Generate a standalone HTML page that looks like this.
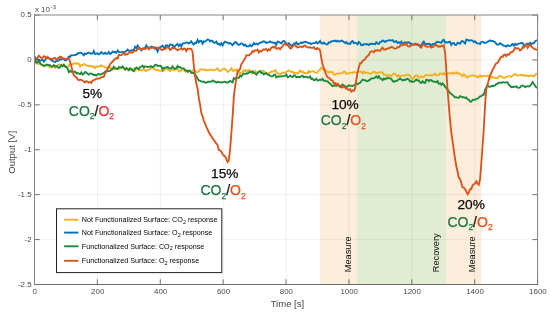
<!DOCTYPE html>
<html><head><meta charset="utf-8"><title>Sensor output</title>
<style>html,body{margin:0;padding:0;background:#fff;}body{width:550px;height:315px;overflow:hidden;position:relative;font-family:"Liberation Sans",Arial,sans-serif;}</style>
</head><body>
<svg width="550" height="315" viewBox="0 0 550 315" style="position:absolute;left:0;top:0">
<rect x="0" y="0" width="550" height="315" fill="#fff"/>
<rect x="320.0" y="15.0" width="36.8" height="269.5" fill="#fdeedb"/>
<rect x="356.8" y="15.0" width="89.3" height="269.5" fill="#e2ecd2"/>
<rect x="446.1" y="15.0" width="35.1" height="269.5" fill="#fdeedb"/>
<g stroke="#000" stroke-opacity="0.10" stroke-width="0.6"><line x1="97.39" y1="15.0" x2="97.39" y2="284.5"/><line x1="160.28" y1="15.0" x2="160.28" y2="284.5"/><line x1="223.16" y1="15.0" x2="223.16" y2="284.5"/><line x1="286.05" y1="15.0" x2="286.05" y2="284.5"/><line x1="348.94" y1="15.0" x2="348.94" y2="284.5"/><line x1="411.83" y1="15.0" x2="411.83" y2="284.5"/><line x1="474.71" y1="15.0" x2="474.71" y2="284.5"/><line x1="34.5" y1="59.92" x2="537.6" y2="59.92"/><line x1="34.5" y1="104.83" x2="537.6" y2="104.83"/><line x1="34.5" y1="149.75" x2="537.6" y2="149.75"/><line x1="34.5" y1="194.67" x2="537.6" y2="194.67"/><line x1="34.5" y1="239.58" x2="537.6" y2="239.58"/></g>
<clipPath id="c"><rect x="34.5" y="15.0" width="503.1" height="269.5"/></clipPath>
<g clip-path="url(#c)" fill="none" stroke-width="1.85" stroke-linejoin="miter" stroke-linecap="round">
<path d="M35.1 61.0 L36.3 62.5 L37.6 64.0 L38.8 63.8 L40.1 63.3 L41.3 64.3 L42.6 65.3 L43.8 66.4 L45.1 65.2 L46.3 64.5 L47.6 65.8 L48.8 66.2 L50.1 67.3 L51.3 67.3 L52.6 66.4 L53.8 65.8 L55.1 68.0 L56.3 66.6 L57.6 65.5 L58.8 64.7 L60.1 65.4 L61.3 65.8 L62.6 65.5 L63.8 65.6 L65.1 66.0 L66.3 66.4 L67.6 66.8 L68.8 66.1 L70.1 64.0 L71.3 65.1 L72.6 63.7 L73.8 64.1 L75.1 63.0 L76.3 63.7 L77.6 63.3 L78.8 63.8 L80.1 66.5 L81.3 65.0 L82.6 65.4 L83.8 64.0 L85.1 64.4 L86.3 65.5 L87.6 65.6 L88.8 66.2 L90.1 66.4 L91.3 65.8 L92.6 67.0 L93.8 66.4 L95.1 68.0 L96.3 66.6 L97.6 66.8 L98.8 66.2 L100.1 66.5 L101.3 65.2 L102.6 66.4 L103.8 66.2 L105.1 67.4 L106.3 67.6 L107.6 67.4 L108.8 66.7 L110.1 67.9 L111.3 68.3 L112.6 69.7 L113.8 68.8 L115.1 69.0 L116.3 69.1 L117.6 68.9 L118.8 68.8 L120.1 68.7 L121.3 68.0 L122.6 67.4 L123.8 67.6 L125.1 68.5 L126.3 69.7 L127.6 69.8 L128.8 69.9 L130.1 69.7 L131.3 69.6 L132.6 69.1 L133.8 69.5 L135.1 70.5 L136.3 69.3 L137.6 68.5 L138.8 70.4 L140.1 69.9 L141.3 70.3 L142.6 70.4 L143.8 68.6 L145.1 70.8 L146.3 71.1 L147.6 69.9 L148.8 69.8 L150.1 69.2 L151.3 68.0 L152.6 68.1 L153.8 68.8 L155.1 69.9 L156.3 70.1 L157.6 69.8 L158.8 70.8 L160.1 70.4 L161.3 71.0 L162.6 71.5 L163.8 70.5 L165.1 68.7 L166.3 68.6 L167.6 69.5 L168.8 70.1 L170.1 71.2 L171.3 69.5 L172.6 69.6 L173.8 70.1 L175.1 69.7 L176.3 67.7 L177.6 69.4 L178.8 71.5 L180.1 71.3 L181.3 69.6 L182.6 69.3 L183.8 69.7 L185.1 71.7 L186.3 71.2 L187.6 70.6 L188.8 71.6 L190.1 70.8 L191.3 72.1 L192.6 70.6 L193.8 70.2 L195.1 71.1 L196.3 72.1 L197.6 72.0 L198.8 71.6 L200.1 69.5 L201.3 69.5 L202.6 69.4 L203.8 69.4 L205.1 70.3 L206.3 69.8 L207.6 70.5 L208.8 70.2 L210.1 69.6 L211.3 69.7 L212.6 70.0 L213.8 70.5 L215.1 69.6 L216.3 69.4 L217.6 68.4 L218.8 70.4 L220.1 71.2 L221.3 70.2 L222.6 69.5 L223.8 68.6 L225.1 69.4 L226.3 69.9 L227.6 71.9 L228.8 71.2 L230.1 70.1 L231.3 68.3 L232.6 70.8 L233.8 70.9 L235.1 69.5 L236.3 70.5 L237.6 69.5 L238.8 73.4 L240.1 73.2 L241.3 72.8 L242.6 72.0 L243.8 70.1 L245.1 71.0 L246.3 70.2 L247.6 71.8 L248.8 70.2 L250.1 70.6 L251.3 72.5 L252.6 73.7 L253.8 71.9 L255.1 70.8 L256.3 72.3 L257.6 72.9 L258.8 71.7 L260.1 71.4 L261.3 71.2 L262.6 70.8 L263.8 71.0 L265.1 72.7 L266.3 73.0 L267.6 74.3 L268.8 73.1 L270.1 72.5 L271.3 71.5 L272.6 71.8 L273.8 70.9 L275.1 70.1 L276.3 71.9 L277.6 73.4 L278.8 73.6 L280.1 74.2 L281.3 73.5 L282.6 72.5 L283.8 72.7 L285.1 72.5 L286.3 71.8 L287.6 71.0 L288.8 70.4 L290.1 71.2 L291.3 71.9 L292.6 71.6 L293.8 73.1 L295.1 72.8 L296.3 72.9 L297.6 73.5 L298.8 72.1 L300.1 70.5 L301.3 72.1 L302.6 71.5 L303.8 73.0 L305.1 72.8 L306.3 73.3 L307.6 73.3 L308.8 71.0 L310.1 72.2 L311.3 71.6 L312.6 71.3 L313.8 71.4 L315.1 72.5 L316.3 72.8 L317.6 72.7 L318.8 70.2 L320.1 69.8 L321.3 67.8 L322.6 68.6 L323.8 69.9 L325.1 69.7 L326.3 70.8 L327.6 71.5 L328.8 72.7 L330.1 72.0 L331.3 71.9 L332.6 72.2 L333.8 74.4 L335.1 74.8 L336.3 73.8 L337.6 73.7 L338.8 73.5 L340.1 73.5 L341.3 73.1 L342.6 72.8 L343.8 71.8 L345.1 71.9 L346.3 73.8 L347.6 73.7 L348.8 73.2 L350.1 72.7 L351.3 72.6 L352.6 72.8 L353.8 72.0 L355.1 72.3 L356.3 72.4 L357.6 71.9 L358.8 71.7 L360.1 71.6 L361.3 71.6 L362.6 73.4 L363.8 71.6 L365.1 72.6 L366.3 73.0 L367.6 72.7 L368.8 73.0 L370.1 73.9 L371.3 73.2 L372.6 72.6 L373.8 71.7 L375.1 72.1 L376.3 73.4 L377.6 73.0 L378.8 72.4 L380.1 72.2 L381.3 72.4 L382.6 72.4 L383.8 74.7 L385.1 75.1 L386.3 74.8 L387.6 76.1 L388.8 75.0 L390.1 75.7 L391.3 76.1 L392.6 74.4 L393.8 73.6 L395.1 73.8 L396.3 75.5 L397.6 76.7 L398.8 75.2 L400.1 76.5 L401.3 75.9 L402.6 75.7 L403.8 75.6 L405.1 75.8 L406.3 74.7 L407.6 74.9 L408.8 74.7 L410.1 76.1 L411.3 78.1 L412.6 79.5 L413.8 77.6 L415.1 75.5 L416.3 75.7 L417.6 75.4 L418.8 77.7 L420.1 77.5 L421.3 76.3 L422.6 77.2 L423.8 77.1 L425.1 75.2 L426.3 75.1 L427.6 75.2 L428.8 75.4 L430.1 75.5 L431.3 75.0 L432.6 75.2 L433.8 74.5 L435.1 73.8 L436.3 75.5 L437.6 75.2 L438.8 75.1 L440.1 73.3 L441.3 73.7 L442.6 74.6 L443.8 73.2 L445.1 74.5 L446.3 73.7 L447.6 73.8 L448.8 73.2 L450.1 73.1 L451.3 73.7 L452.6 72.5 L453.8 73.8 L455.1 72.8 L456.3 72.4 L457.6 73.9 L458.8 73.2 L460.1 73.8 L461.3 75.3 L462.6 76.2 L463.8 74.2 L465.1 75.3 L466.3 77.1 L467.6 77.4 L468.8 76.4 L470.1 75.8 L471.3 75.8 L472.6 75.2 L473.8 75.8 L475.1 76.0 L476.3 76.2 L477.6 77.3 L478.8 76.7 L480.1 75.4 L481.3 76.9 L482.6 75.8 L483.8 75.8 L485.1 76.1 L486.3 76.0 L487.6 75.5 L488.8 76.0 L490.1 78.3 L491.3 77.0 L492.6 76.8 L493.8 77.9 L495.1 78.1 L496.3 78.2 L497.6 78.4 L498.8 76.2 L500.1 76.0 L501.3 76.6 L502.6 77.1 L503.8 78.0 L505.1 77.6 L506.3 76.8 L507.6 76.6 L508.8 76.2 L510.1 76.3 L511.3 76.7 L512.6 75.8 L513.8 74.7 L515.1 74.0 L516.3 75.2 L517.6 75.6 L518.8 75.4 L520.1 75.0 L521.3 75.1 L522.6 74.9 L523.8 75.8 L525.1 75.0 L526.3 75.7 L527.6 75.6 L528.8 76.4 L530.1 75.6 L531.3 75.5 L532.6 75.7 L533.8 76.5 L535.1 74.9 L536.3 74.0" stroke="#f0b020"/>
<path d="M35.1 57.2 L36.3 59.0 L37.6 59.7 L38.8 59.4 L40.1 60.7 L41.3 60.3 L42.6 59.8 L43.8 61.6 L45.1 60.0 L46.3 58.5 L47.6 57.6 L48.8 58.0 L50.1 59.4 L51.3 60.2 L52.6 60.8 L53.8 61.7 L55.1 62.0 L56.3 60.9 L57.6 61.1 L58.8 60.5 L60.1 58.9 L61.3 59.6 L62.6 59.1 L63.8 58.5 L65.1 60.5 L66.3 60.1 L67.6 58.6 L68.8 56.6 L70.1 56.9 L71.3 55.2 L72.6 55.3 L73.8 55.2 L75.1 54.9 L76.3 54.8 L77.6 53.6 L78.8 52.9 L80.1 52.9 L81.3 52.7 L82.6 53.9 L83.8 55.3 L85.1 53.4 L86.3 54.1 L87.6 52.9 L88.8 52.7 L90.1 53.1 L91.3 53.7 L92.6 53.4 L93.8 51.0 L95.1 54.1 L96.3 53.7 L97.6 53.2 L98.8 54.3 L100.1 53.5 L101.3 52.2 L102.6 53.5 L103.8 53.9 L105.1 52.7 L106.3 53.8 L107.6 53.7 L108.8 51.9 L110.1 54.1 L111.3 53.4 L112.6 51.5 L113.8 52.2 L115.1 52.0 L116.3 52.7 L117.6 50.5 L118.8 51.9 L120.1 52.3 L121.3 52.2 L122.6 51.9 L123.8 52.4 L125.1 52.0 L126.3 51.0 L127.6 49.5 L128.8 50.7 L130.1 51.1 L131.3 50.4 L132.6 49.9 L133.8 50.1 L135.1 46.7 L136.3 48.1 L137.6 45.6 L138.8 47.3 L140.1 48.9 L141.3 50.3 L142.6 48.4 L143.8 48.4 L145.1 47.8 L146.3 45.3 L147.6 47.3 L148.8 47.5 L150.1 47.6 L151.3 46.6 L152.6 47.1 L153.8 47.4 L155.1 48.9 L156.3 48.5 L157.6 51.6 L158.8 48.5 L160.1 47.2 L161.3 46.7 L162.6 45.6 L163.8 47.5 L165.1 47.3 L166.3 45.1 L167.6 45.5 L168.8 46.7 L170.1 44.4 L171.3 44.9 L172.6 44.7 L173.8 47.2 L175.1 46.2 L176.3 44.8 L177.6 44.0 L178.8 46.1 L180.1 44.5 L181.3 46.5 L182.6 43.4 L183.8 43.3 L185.1 43.1 L186.3 42.5 L187.6 42.7 L188.8 43.6 L190.1 42.6 L191.3 41.3 L192.6 43.5 L193.8 44.6 L195.1 42.8 L196.3 42.9 L197.6 39.9 L198.8 42.3 L200.1 40.8 L201.3 40.9 L202.6 43.7 L203.8 41.3 L205.1 41.6 L206.3 40.6 L207.6 39.4 L208.8 39.7 L210.1 41.4 L211.3 40.6 L212.6 41.1 L213.8 42.8 L215.1 42.7 L216.3 41.5 L217.6 44.0 L218.8 43.8 L220.1 45.1 L221.3 43.2 L222.6 45.3 L223.8 43.1 L225.1 41.6 L226.3 42.3 L227.6 42.7 L228.8 43.5 L230.1 43.0 L231.3 44.0 L232.6 45.2 L233.8 43.6 L235.1 42.1 L236.3 42.4 L237.6 44.1 L238.8 44.9 L240.1 44.2 L241.3 43.3 L242.6 44.0 L243.8 45.5 L245.1 44.5 L246.3 46.3 L247.6 46.1 L248.8 46.2 L250.1 44.9 L251.3 46.3 L252.6 45.3 L253.8 43.1 L255.1 44.4 L256.3 43.5 L257.6 44.5 L258.8 43.8 L260.1 42.5 L261.3 42.6 L262.6 41.9 L263.8 41.3 L265.1 41.8 L266.3 42.9 L267.6 42.5 L268.8 42.1 L270.1 41.4 L271.3 42.3 L272.6 42.3 L273.8 43.0 L275.1 42.7 L276.3 44.6 L277.6 41.6 L278.8 41.9 L280.1 42.7 L281.3 43.5 L282.6 41.4 L283.8 40.9 L285.1 41.9 L286.3 43.6 L287.6 44.7 L288.8 43.2 L290.1 44.7 L291.3 46.0 L292.6 45.2 L293.8 43.7 L295.1 43.3 L296.3 42.3 L297.6 44.5 L298.8 43.9 L300.1 43.3 L301.3 42.5 L302.6 42.9 L303.8 42.2 L305.1 41.7 L306.3 42.4 L307.6 42.5 L308.8 43.2 L310.1 43.2 L311.3 44.2 L312.6 43.3 L313.8 43.1 L315.1 43.0 L316.3 41.9 L317.6 43.5 L318.8 42.5 L320.1 40.9 L321.3 43.2 L322.6 43.7 L323.8 42.6 L325.1 43.8 L326.3 44.3 L327.6 44.3 L328.8 42.3 L330.1 42.6 L331.3 41.4 L332.6 41.1 L333.8 41.0 L335.1 40.5 L336.3 41.6 L337.6 40.6 L338.8 41.5 L340.1 41.4 L341.3 40.5 L342.6 41.1 L343.8 42.0 L345.1 43.0 L346.3 42.0 L347.6 43.8 L348.8 43.4 L350.1 44.0 L351.3 41.7 L352.6 41.0 L353.8 43.2 L355.1 42.7 L356.3 43.2 L357.6 44.3 L358.8 42.0 L360.1 43.1 L361.3 45.2 L362.6 45.0 L363.8 44.2 L365.1 44.4 L366.3 44.0 L367.6 44.4 L368.8 45.1 L370.1 43.8 L371.3 44.0 L372.6 43.7 L373.8 44.0 L375.1 44.2 L376.3 42.2 L377.6 43.6 L378.8 43.9 L380.1 41.9 L381.3 41.8 L382.6 40.5 L383.8 41.1 L385.1 42.0 L386.3 40.8 L387.6 40.6 L388.8 40.3 L390.1 40.4 L391.3 40.3 L392.6 40.0 L393.8 41.7 L395.1 41.7 L396.3 41.2 L397.6 42.9 L398.8 42.1 L400.1 43.3 L401.3 41.7 L402.6 43.8 L403.8 42.9 L405.1 42.1 L406.3 43.4 L407.6 42.3 L408.8 42.2 L410.1 43.7 L411.3 43.5 L412.6 44.3 L413.8 44.4 L415.1 44.6 L416.3 44.6 L417.6 45.1 L418.8 44.7 L420.1 45.6 L421.3 45.8 L422.6 42.9 L423.8 41.7 L425.1 44.6 L426.3 43.8 L427.6 44.1 L428.8 43.8 L430.1 44.1 L431.3 46.2 L432.6 44.0 L433.8 43.8 L435.1 43.6 L436.3 42.3 L437.6 41.8 L438.8 42.1 L440.1 42.4 L441.3 42.9 L442.6 40.5 L443.8 39.8 L445.1 42.7 L446.3 42.0 L447.6 42.7 L448.8 42.0 L450.1 41.8 L451.3 44.9 L452.6 43.2 L453.8 43.0 L455.1 44.9 L456.3 44.9 L457.6 42.6 L458.8 43.2 L460.1 43.8 L461.3 41.4 L462.6 41.1 L463.8 42.1 L465.1 43.4 L466.3 39.5 L467.6 39.8 L468.8 40.8 L470.1 40.3 L471.3 40.2 L472.6 40.7 L473.8 42.1 L475.1 41.2 L476.3 42.9 L477.6 43.3 L478.8 43.4 L480.1 44.1 L481.3 42.1 L482.6 41.7 L483.8 42.4 L485.1 43.0 L486.3 42.7 L487.6 41.6 L488.8 41.2 L490.1 40.3 L491.3 41.0 L492.6 41.0 L493.8 41.6 L495.1 42.2 L496.3 43.9 L497.6 44.8 L498.8 44.4 L500.1 43.2 L501.3 43.9 L502.6 44.9 L503.8 45.9 L505.1 45.9 L506.3 46.6 L507.6 45.2 L508.8 45.9 L510.1 46.1 L511.3 45.0 L512.6 44.0 L513.8 45.6 L515.1 43.9 L516.3 44.8 L517.6 44.1 L518.8 43.6 L520.1 43.4 L521.3 43.0 L522.6 43.2 L523.8 45.1 L525.1 45.5 L526.3 44.0 L527.6 43.8 L528.8 44.1 L530.1 42.7 L531.3 44.4 L532.6 43.2 L533.8 43.2 L535.1 41.4 L536.3 40.4" stroke="#0072bd"/>
<path d="M35.1 60.6 L36.3 62.8 L37.6 62.1 L38.8 61.3 L40.1 63.2 L41.3 64.5 L42.6 65.1 L43.8 65.7 L45.1 65.6 L46.3 65.0 L47.6 64.6 L48.8 65.0 L50.1 65.1 L51.3 66.3 L52.6 66.7 L53.8 65.1 L55.1 66.3 L56.3 66.1 L57.6 67.1 L58.8 67.9 L60.1 67.3 L61.3 65.0 L62.6 66.1 L63.8 64.6 L65.1 66.8 L66.3 66.8 L67.6 68.6 L68.8 72.0 L70.1 70.8 L71.3 72.0 L72.6 71.4 L73.8 71.7 L75.1 71.7 L76.3 73.2 L77.6 73.0 L78.8 73.6 L80.1 74.2 L81.3 72.4 L82.6 74.4 L83.8 73.7 L85.1 72.1 L86.3 72.4 L87.6 73.9 L88.8 74.7 L90.1 73.5 L91.3 73.7 L92.6 74.1 L93.8 75.2 L95.1 74.7 L96.3 75.6 L97.6 74.4 L98.8 74.0 L100.1 74.5 L101.3 74.4 L102.6 73.3 L103.8 73.1 L105.1 71.6 L106.3 70.8 L107.6 71.2 L108.8 70.8 L110.1 70.8 L111.3 69.5 L112.6 68.8 L113.8 66.7 L115.1 68.3 L116.3 68.5 L117.6 69.1 L118.8 67.0 L120.1 67.4 L121.3 67.5 L122.6 66.4 L123.8 68.4 L125.1 69.6 L126.3 67.9 L127.6 68.7 L128.8 70.2 L130.1 68.2 L131.3 69.3 L132.6 70.4 L133.8 71.1 L135.1 68.4 L136.3 67.5 L137.6 68.1 L138.8 69.1 L140.1 67.1 L141.3 66.5 L142.6 65.7 L143.8 67.3 L145.1 66.2 L146.3 66.7 L147.6 66.8 L148.8 67.1 L150.1 66.5 L151.3 66.3 L152.6 67.0 L153.8 66.6 L155.1 64.8 L156.3 64.7 L157.6 66.0 L158.8 65.9 L160.1 65.8 L161.3 66.3 L162.6 69.5 L163.8 67.8 L165.1 67.6 L166.3 67.6 L167.6 66.9 L168.8 68.1 L170.1 68.4 L171.3 68.1 L172.6 66.4 L173.8 68.3 L175.1 68.8 L176.3 68.4 L177.6 65.9 L178.8 67.4 L180.1 67.1 L181.3 68.1 L182.6 68.3 L183.8 68.3 L185.1 70.2 L186.3 70.4 L187.6 71.8 L188.8 70.6 L190.1 71.0 L191.3 72.9 L192.6 73.0 L193.8 73.2 L195.1 74.4 L196.3 76.2 L197.6 78.6 L198.8 80.5 L200.1 80.6 L201.3 81.4 L202.6 81.9 L203.8 81.6 L205.1 82.6 L206.3 82.7 L207.6 82.0 L208.8 81.8 L210.1 81.9 L211.3 81.4 L212.6 80.5 L213.8 81.5 L215.1 81.4 L216.3 82.5 L217.6 81.8 L218.8 82.2 L220.1 82.5 L221.3 82.1 L222.6 82.5 L223.8 81.8 L225.1 81.6 L226.3 82.5 L227.6 82.5 L228.8 81.9 L230.1 80.8 L231.3 81.6 L232.6 82.3 L233.8 78.2 L235.1 78.9 L236.3 77.9 L237.6 78.1 L238.8 77.9 L240.1 75.4 L241.3 76.5 L242.6 74.5 L243.8 73.5 L245.1 74.0 L246.3 73.5 L247.6 73.5 L248.8 72.7 L250.1 71.7 L251.3 72.2 L252.6 71.3 L253.8 73.1 L255.1 73.2 L256.3 74.7 L257.6 73.0 L258.8 71.7 L260.1 71.2 L261.3 73.0 L262.6 72.9 L263.8 74.5 L265.1 73.5 L266.3 73.1 L267.6 74.6 L268.8 74.7 L270.1 75.7 L271.3 76.4 L272.6 76.3 L273.8 74.8 L275.1 74.5 L276.3 77.4 L277.6 76.4 L278.8 76.5 L280.1 76.5 L281.3 76.3 L282.6 76.2 L283.8 75.8 L285.1 75.8 L286.3 74.4 L287.6 77.3 L288.8 76.8 L290.1 75.5 L291.3 76.5 L292.6 77.1 L293.8 75.3 L295.1 75.3 L296.3 77.2 L297.6 77.0 L298.8 76.8 L300.1 77.2 L301.3 76.2 L302.6 75.6 L303.8 77.4 L305.1 76.7 L306.3 76.7 L307.6 77.5 L308.8 77.5 L310.1 76.4 L311.3 79.1 L312.6 78.6 L313.8 80.3 L315.1 80.0 L316.3 78.7 L317.6 80.7 L318.8 80.2 L320.1 79.5 L321.3 80.2 L322.6 78.7 L323.8 80.7 L325.1 80.7 L326.3 81.3 L327.6 81.2 L328.8 82.9 L330.1 83.6 L331.3 84.8 L332.6 86.1 L333.8 85.7 L335.1 85.5 L336.3 85.9 L337.6 85.2 L338.8 85.4 L340.1 87.0 L341.3 86.2 L342.6 84.6 L343.8 85.4 L345.1 86.2 L346.3 87.7 L347.6 86.2 L348.8 85.3 L350.1 85.8 L351.3 85.7 L352.6 86.0 L353.8 85.3 L355.1 85.0 L356.3 83.7 L357.6 84.2 L358.8 83.3 L360.1 82.8 L361.3 81.2 L362.6 79.6 L363.8 80.1 L365.1 80.2 L366.3 81.1 L367.6 81.3 L368.8 80.3 L370.1 79.7 L371.3 78.4 L372.6 78.4 L373.8 78.4 L375.1 77.6 L376.3 76.4 L377.6 77.8 L378.8 76.2 L380.1 78.3 L381.3 79.1 L382.6 80.1 L383.8 78.5 L385.1 79.4 L386.3 78.1 L387.6 78.6 L388.8 77.9 L390.1 78.4 L391.3 79.0 L392.6 80.8 L393.8 81.8 L395.1 81.1 L396.3 81.0 L397.6 80.2 L398.8 79.5 L400.1 78.5 L401.3 79.4 L402.6 80.5 L403.8 79.7 L405.1 80.2 L406.3 79.0 L407.6 78.8 L408.8 79.6 L410.1 81.6 L411.3 81.0 L412.6 82.1 L413.8 81.5 L415.1 80.7 L416.3 79.5 L417.6 80.5 L418.8 80.5 L420.1 82.4 L421.3 82.8 L422.6 81.2 L423.8 82.6 L425.1 82.9 L426.3 79.7 L427.6 79.9 L428.8 81.2 L430.1 80.0 L431.3 80.2 L432.6 81.3 L433.8 81.5 L435.1 81.8 L436.3 82.2 L437.6 81.1 L438.8 83.8 L440.1 83.4 L441.3 84.8 L442.6 83.3 L443.8 84.7 L445.1 86.6 L446.3 88.1 L447.6 89.9 L448.8 91.2 L450.1 93.0 L451.3 94.0 L452.6 94.9 L453.8 96.1 L455.1 97.5 L456.3 97.2 L457.6 97.8 L458.8 97.9 L460.1 96.2 L461.3 96.7 L462.6 97.2 L463.8 97.2 L465.1 98.0 L466.3 97.5 L467.6 99.4 L468.8 99.6 L470.1 101.6 L471.3 101.7 L472.6 99.8 L473.8 99.7 L475.1 99.8 L476.3 98.9 L477.6 98.7 L478.8 97.6 L480.1 96.4 L481.3 96.1 L482.6 94.7 L483.8 94.8 L485.1 89.9 L486.3 87.5 L487.6 85.4 L488.8 86.7 L490.1 86.8 L491.3 86.2 L492.6 85.8 L493.8 86.0 L495.1 85.2 L496.3 84.0 L497.6 83.7 L498.8 82.7 L500.1 82.6 L501.3 83.0 L502.6 82.3 L503.8 82.4 L505.1 82.6 L506.3 82.3 L507.6 82.4 L508.8 84.9 L510.1 85.7 L511.3 87.3 L512.6 87.0 L513.8 86.8 L515.1 86.9 L516.3 86.4 L517.6 87.7 L518.8 87.9 L520.1 87.4 L521.3 85.8 L522.6 85.5 L523.8 86.0 L525.1 87.1 L526.3 86.4 L527.6 86.1 L528.8 86.4 L530.1 85.7 L531.3 84.3 L532.6 82.2 L533.8 83.8 L535.1 85.8 L536.3 87.6" stroke="#1c8a3a"/>
<path d="M35.1 59.4 L36.3 59.6 L37.6 57.4 L38.8 55.7 L40.1 56.8 L41.3 58.1 L42.6 57.8 L43.8 56.3 L45.1 56.5 L46.3 58.6 L47.6 56.8 L48.8 58.5 L50.1 58.7 L51.3 58.8 L52.6 59.2 L53.8 58.1 L55.1 58.0 L56.3 59.9 L57.6 58.5 L58.8 57.8 L60.1 56.5 L61.3 56.8 L62.6 58.1 L63.8 59.2 L65.1 59.1 L66.3 59.0 L67.6 58.9 L68.8 58.5 L70.1 61.7 L71.3 66.1 L72.6 71.7 L73.8 75.3 L75.1 76.5 L76.3 77.2 L77.6 79.3 L78.8 80.2 L80.1 79.6 L81.3 79.8 L82.6 80.8 L83.8 81.6 L85.1 82.4 L86.3 81.1 L87.6 81.7 L88.8 82.6 L90.1 81.9 L91.3 82.8 L92.6 80.7 L93.8 80.1 L95.1 79.7 L96.3 78.7 L97.6 78.6 L98.8 78.6 L100.1 78.2 L101.3 77.4 L102.6 76.9 L103.8 76.9 L105.1 73.1 L106.3 71.7 L107.6 68.7 L108.8 67.0 L110.1 64.2 L111.3 62.9 L112.6 61.5 L113.8 60.4 L115.1 58.7 L116.3 58.1 L117.6 58.6 L118.8 54.8 L120.1 55.3 L121.3 55.2 L122.6 54.3 L123.8 52.8 L125.1 54.8 L126.3 54.1 L127.6 54.3 L128.8 52.9 L130.1 51.7 L131.3 52.7 L132.6 52.6 L133.8 51.3 L135.1 50.6 L136.3 50.8 L137.6 49.3 L138.8 48.4 L140.1 48.5 L141.3 49.3 L142.6 49.3 L143.8 48.5 L145.1 49.1 L146.3 48.0 L147.6 47.1 L148.8 49.4 L150.1 47.7 L151.3 47.9 L152.6 47.9 L153.8 47.5 L155.1 47.3 L156.3 47.7 L157.6 47.9 L158.8 47.6 L160.1 48.5 L161.3 49.9 L162.6 50.0 L163.8 48.9 L165.1 49.0 L166.3 48.0 L167.6 47.3 L168.8 47.8 L170.1 50.1 L171.3 49.0 L172.6 47.3 L173.8 48.2 L175.1 48.1 L176.3 49.4 L177.6 50.4 L178.8 49.3 L180.1 49.2 L181.3 48.2 L182.6 49.7 L183.8 48.5 L185.1 48.7 L186.3 51.0 L187.6 48.8 L188.8 48.9 L190.1 48.6 L191.3 49.0 L192.6 52.0 L193.8 65.4 L195.1 76.4 L196.3 83.5 L197.6 88.9 L198.8 97.9 L200.1 104.9 L201.3 112.8 L202.6 116.2 L203.8 120.8 L205.1 123.5 L206.3 126.9 L207.6 129.4 L208.8 132.3 L210.1 134.4 L211.3 136.1 L212.6 138.2 L213.8 140.1 L215.1 141.9 L216.3 143.5 L217.6 144.9 L218.8 149.9 L220.1 150.5 L221.3 151.4 L222.6 154.3 L223.8 155.6 L225.1 156.5 L226.3 158.9 L227.6 161.9 L228.8 160.4 L230.1 149.1 L231.3 133.9 L232.6 116.5 L233.8 97.2 L235.1 86.5 L236.3 78.1 L237.6 71.6 L238.8 70.9 L240.1 69.2 L241.3 64.2 L242.6 62.6 L243.8 60.2 L245.1 58.4 L246.3 55.3 L247.6 55.4 L248.8 55.4 L250.1 54.2 L251.3 53.3 L252.6 51.0 L253.8 51.8 L255.1 50.2 L256.3 50.5 L257.6 49.7 L258.8 52.4 L260.1 50.8 L261.3 51.4 L262.6 50.0 L263.8 49.3 L265.1 49.7 L266.3 49.0 L267.6 50.9 L268.8 49.2 L270.1 50.1 L271.3 47.7 L272.6 46.8 L273.8 47.8 L275.1 46.2 L276.3 48.8 L277.6 48.5 L278.8 47.9 L280.1 49.2 L281.3 47.5 L282.6 46.5 L283.8 44.2 L285.1 43.7 L286.3 45.1 L287.6 44.0 L288.8 46.7 L290.1 48.2 L291.3 48.2 L292.6 46.0 L293.8 45.7 L295.1 45.0 L296.3 46.7 L297.6 47.7 L298.8 46.8 L300.1 46.7 L301.3 46.7 L302.6 47.1 L303.8 45.8 L305.1 45.3 L306.3 46.8 L307.6 47.3 L308.8 47.5 L310.1 47.2 L311.3 47.9 L312.6 47.9 L313.8 47.0 L315.1 48.9 L316.3 49.2 L317.6 48.0 L318.8 48.9 L320.1 50.3 L321.3 58.2 L322.6 64.2 L323.8 68.2 L325.1 71.8 L326.3 75.1 L327.6 77.3 L328.8 77.6 L330.1 79.2 L331.3 80.1 L332.6 80.6 L333.8 83.5 L335.1 83.1 L336.3 85.0 L337.6 83.7 L338.8 85.3 L340.1 85.5 L341.3 87.3 L342.6 87.5 L343.8 86.5 L345.1 87.5 L346.3 88.7 L347.6 89.3 L348.8 90.0 L350.1 89.1 L351.3 91.6 L352.6 90.4 L353.8 90.8 L355.1 88.5 L356.3 80.2 L357.6 72.2 L358.8 67.4 L360.1 63.2 L361.3 63.2 L362.6 60.7 L363.8 60.3 L365.1 59.1 L366.3 56.8 L367.6 56.0 L368.8 55.1 L370.1 52.2 L371.3 51.3 L372.6 51.3 L373.8 52.3 L375.1 50.3 L376.3 50.7 L377.6 50.0 L378.8 50.7 L380.1 50.8 L381.3 48.9 L382.6 47.7 L383.8 49.5 L385.1 49.7 L386.3 48.7 L387.6 48.9 L388.8 48.0 L390.1 47.9 L391.3 46.8 L392.6 47.2 L393.8 48.4 L395.1 48.6 L396.3 48.4 L397.6 47.1 L398.8 47.3 L400.1 45.8 L401.3 45.2 L402.6 45.3 L403.8 44.0 L405.1 44.8 L406.3 43.3 L407.6 46.1 L408.8 46.6 L410.1 46.3 L411.3 45.2 L412.6 44.8 L413.8 44.8 L415.1 43.5 L416.3 44.2 L417.6 44.0 L418.8 45.7 L420.1 46.9 L421.3 47.6 L422.6 45.1 L423.8 43.9 L425.1 46.1 L426.3 46.5 L427.6 46.9 L428.8 46.6 L430.1 46.1 L431.3 47.6 L432.6 47.1 L433.8 46.6 L435.1 44.7 L436.3 45.1 L437.6 46.5 L438.8 46.3 L440.1 46.7 L441.3 45.8 L442.6 46.3 L443.8 45.3 L445.1 52.5 L446.3 70.2 L447.6 90.9 L448.8 105.3 L450.1 120.3 L451.3 132.4 L452.6 141.3 L453.8 150.3 L455.1 159.1 L456.3 166.1 L457.6 172.0 L458.8 177.5 L460.1 179.2 L461.3 183.0 L462.6 187.5 L463.8 187.7 L465.1 189.2 L466.3 191.5 L467.6 194.2 L468.8 192.5 L470.1 189.1 L471.3 189.1 L472.6 185.2 L473.8 184.3 L475.1 183.5 L476.3 181.4 L477.6 183.7 L478.8 184.8 L480.1 178.9 L481.3 163.6 L482.6 145.2 L483.8 128.2 L485.1 104.4 L486.3 88.9 L487.6 84.6 L488.8 79.8 L490.1 75.6 L491.3 72.8 L492.6 69.8 L493.8 67.8 L495.1 65.0 L496.3 63.3 L497.6 63.0 L498.8 60.7 L500.1 58.5 L501.3 56.5 L502.6 56.9 L503.8 54.8 L505.1 54.6 L506.3 56.1 L507.6 54.2 L508.8 54.8 L510.1 53.1 L511.3 52.0 L512.6 51.9 L513.8 50.2 L515.1 47.7 L516.3 48.7 L517.6 48.2 L518.8 48.7 L520.1 50.5 L521.3 49.7 L522.6 47.0 L523.8 47.7 L525.1 45.7 L526.3 44.3 L527.6 47.9 L528.8 46.3 L530.1 44.5 L531.3 46.4 L532.6 47.4 L533.8 48.8 L535.1 49.2 L536.3 49.6" stroke="#d95319"/>
</g>
<g stroke="#4a4a4a" stroke-width="0.75"><line x1="34.50" y1="284.5" x2="34.50" y2="279.3"/><line x1="34.50" y1="15.0" x2="34.50" y2="20.2"/><line x1="97.39" y1="284.5" x2="97.39" y2="279.3"/><line x1="97.39" y1="15.0" x2="97.39" y2="20.2"/><line x1="160.28" y1="284.5" x2="160.28" y2="279.3"/><line x1="160.28" y1="15.0" x2="160.28" y2="20.2"/><line x1="223.16" y1="284.5" x2="223.16" y2="279.3"/><line x1="223.16" y1="15.0" x2="223.16" y2="20.2"/><line x1="286.05" y1="284.5" x2="286.05" y2="279.3"/><line x1="286.05" y1="15.0" x2="286.05" y2="20.2"/><line x1="348.94" y1="284.5" x2="348.94" y2="279.3"/><line x1="348.94" y1="15.0" x2="348.94" y2="20.2"/><line x1="411.83" y1="284.5" x2="411.83" y2="279.3"/><line x1="411.83" y1="15.0" x2="411.83" y2="20.2"/><line x1="474.71" y1="284.5" x2="474.71" y2="279.3"/><line x1="474.71" y1="15.0" x2="474.71" y2="20.2"/><line x1="537.60" y1="284.5" x2="537.60" y2="279.3"/><line x1="537.60" y1="15.0" x2="537.60" y2="20.2"/><line x1="34.5" y1="15.00" x2="39.7" y2="15.00"/><line x1="537.6" y1="15.00" x2="532.4" y2="15.00"/><line x1="34.5" y1="59.92" x2="39.7" y2="59.92"/><line x1="537.6" y1="59.92" x2="532.4" y2="59.92"/><line x1="34.5" y1="104.83" x2="39.7" y2="104.83"/><line x1="537.6" y1="104.83" x2="532.4" y2="104.83"/><line x1="34.5" y1="149.75" x2="39.7" y2="149.75"/><line x1="537.6" y1="149.75" x2="532.4" y2="149.75"/><line x1="34.5" y1="194.67" x2="39.7" y2="194.67"/><line x1="537.6" y1="194.67" x2="532.4" y2="194.67"/><line x1="34.5" y1="239.58" x2="39.7" y2="239.58"/><line x1="537.6" y1="239.58" x2="532.4" y2="239.58"/><line x1="34.5" y1="284.50" x2="39.7" y2="284.50"/><line x1="537.6" y1="284.50" x2="532.4" y2="284.50"/></g>
<line x1="34.5" y1="14.5" x2="34.5" y2="285.0" stroke="#858585" stroke-width="1"/>
<line x1="537.6" y1="14.5" x2="537.6" y2="285.0" stroke="#7d7d7d" stroke-width="1"/>
<line x1="34.0" y1="15.0" x2="538.1" y2="15.0" stroke="#858585" stroke-width="1.2"/>
<line x1="34.0" y1="284.5" x2="538.1" y2="284.5" stroke="#6e6e6e" stroke-width="1"/>
<g font-family="Liberation Sans, Arial, Helvetica, sans-serif" font-size="7.9" fill="#484848">
<text x="34.8" y="293.6" text-anchor="middle">0</text>
<text x="97.7" y="293.6" text-anchor="middle">200</text>
<text x="160.6" y="293.6" text-anchor="middle">400</text>
<text x="223.5" y="293.6" text-anchor="middle">600</text>
<text x="286.4" y="293.6" text-anchor="middle">800</text>
<text x="349.2" y="293.6" text-anchor="middle">1000</text>
<text x="412.1" y="293.6" text-anchor="middle">1200</text>
<text x="475.0" y="293.6" text-anchor="middle">1400</text>
<text x="537.9" y="293.6" text-anchor="middle">1600</text>
<text x="31.6" y="17.3" text-anchor="end">0.5</text>
<text x="31.6" y="62.2" text-anchor="end">0</text>
<text x="31.6" y="107.1" text-anchor="end">-0.5</text>
<text x="31.6" y="152.1" text-anchor="end">-1</text>
<text x="31.6" y="197.0" text-anchor="end">-1.5</text>
<text x="31.6" y="241.9" text-anchor="end">-2</text>
<text x="31.6" y="286.8" text-anchor="end">-2.5</text>
<text x="34.9" y="12.0">x 10<tspan font-size="5.9" dx="0.9" dy="-3.4">-3</tspan></text>
</g>
<text font-family="Liberation Sans, Arial, Helvetica, sans-serif" font-size="9.5" fill="#444" x="287.4" y="307.3" text-anchor="middle">Time [s]</text>
<text font-family="Liberation Sans, Arial, Helvetica, sans-serif" font-size="9.5" fill="#444" transform="translate(15.0,152.3) rotate(-90)" text-anchor="middle">Output [V]</text>
<text font-family="Liberation Sans, Arial, Helvetica, sans-serif" font-size="9.2" fill="#111" transform="translate(351.2,272.2) rotate(-90)">Measure</text>
<text font-family="Liberation Sans, Arial, Helvetica, sans-serif" font-size="9.2" fill="#111" transform="translate(438.8,272.2) rotate(-90)">Recovery</text>
<text font-family="Liberation Sans, Arial, Helvetica, sans-serif" font-size="9.2" fill="#111" transform="translate(475.2,272.2) rotate(-90)">Measure</text>
<text font-family="Liberation Sans, Arial, Helvetica, sans-serif" font-size="13.7" fill="#0a0a0a" stroke="#0a0a0a" stroke-width="0.25" x="92.3" y="98.2" text-anchor="middle">5%</text><text font-family="Liberation Sans, Arial, Helvetica, sans-serif" font-size="14" stroke-width="0.25" x="91.4" y="115.8" text-anchor="middle"><tspan fill="#187a40" stroke="#187a40">CO</tspan><tspan fill="#187a40" stroke="#187a40" font-size="8.5" dy="3.6">2</tspan><tspan fill="#111" stroke="#111" dy="-3.6">/</tspan><tspan fill="#e8343c" stroke="#e8343c">O</tspan><tspan fill="#e8343c" stroke="#e8343c" font-size="8.5" dy="3.6">2</tspan></text>
<text font-family="Liberation Sans, Arial, Helvetica, sans-serif" font-size="13.7" fill="#0a0a0a" stroke="#0a0a0a" stroke-width="0.25" x="224.8" y="177.5" text-anchor="middle">15%</text><text font-family="Liberation Sans, Arial, Helvetica, sans-serif" font-size="14" stroke-width="0.25" x="223.1" y="195.0" text-anchor="middle"><tspan fill="#187a40" stroke="#187a40">CO</tspan><tspan fill="#187a40" stroke="#187a40" font-size="8.5" dy="3.6">2</tspan><tspan fill="#111" stroke="#111" dy="-3.6">/</tspan><tspan fill="#e8501e" stroke="#e8501e">O</tspan><tspan fill="#e8501e" stroke="#e8501e" font-size="8.5" dy="3.6">2</tspan></text>
<text font-family="Liberation Sans, Arial, Helvetica, sans-serif" font-size="13.7" fill="#0a0a0a" stroke="#0a0a0a" stroke-width="0.25" x="345.1" y="108.8" text-anchor="middle">10%</text><text font-family="Liberation Sans, Arial, Helvetica, sans-serif" font-size="14" stroke-width="0.25" x="343.3" y="125.2" text-anchor="middle"><tspan fill="#187a40" stroke="#187a40">CO</tspan><tspan fill="#187a40" stroke="#187a40" font-size="8.5" dy="3.6">2</tspan><tspan fill="#111" stroke="#111" dy="-3.6">/</tspan><tspan fill="#e8501e" stroke="#e8501e">O</tspan><tspan fill="#e8501e" stroke="#e8501e" font-size="8.5" dy="3.6">2</tspan></text>
<text font-family="Liberation Sans, Arial, Helvetica, sans-serif" font-size="13.7" fill="#0a0a0a" stroke="#0a0a0a" stroke-width="0.25" x="471.2" y="209.4" text-anchor="middle">20%</text><text font-family="Liberation Sans, Arial, Helvetica, sans-serif" font-size="14" stroke-width="0.25" x="470.0" y="226.5" text-anchor="middle"><tspan fill="#187a40" stroke="#187a40">CO</tspan><tspan fill="#187a40" stroke="#187a40" font-size="8.5" dy="3.6">2</tspan><tspan fill="#111" stroke="#111" dy="-3.6">/</tspan><tspan fill="#e8501e" stroke="#e8501e">O</tspan><tspan fill="#e8501e" stroke="#e8501e" font-size="8.5" dy="3.6">2</tspan></text>
<rect x="56.5" y="208.8" width="165.3" height="63.8" fill="#fff" stroke="#222" stroke-width="1"/>
<line x1="64.1" y1="219.7" x2="78.4" y2="219.7" stroke="#f0b020" stroke-width="1.9"/>
<text font-family="Liberation Sans, Arial, Helvetica, sans-serif" font-size="7.2" fill="#000" x="81.8" y="222.1">Not Functionalized Surface: CO<tspan font-size="5.5" dy="1.6">2</tspan><tspan dy="-1.6"> response</tspan></text>
<line x1="64.1" y1="232.6" x2="78.4" y2="232.6" stroke="#0072bd" stroke-width="1.9"/>
<text font-family="Liberation Sans, Arial, Helvetica, sans-serif" font-size="7.2" fill="#000" x="81.8" y="235.0">Not Functionalized Surface: O<tspan font-size="5.5" dy="1.6">2</tspan><tspan dy="-1.6"> response</tspan></text>
<line x1="64.1" y1="246.3" x2="78.4" y2="246.3" stroke="#1c8a3a" stroke-width="1.9"/>
<text font-family="Liberation Sans, Arial, Helvetica, sans-serif" font-size="7.2" fill="#000" x="81.8" y="248.7">Functionalized Surface: CO<tspan font-size="5.5" dy="1.6">2</tspan><tspan dy="-1.6"> response</tspan></text>
<line x1="64.1" y1="260.8" x2="78.4" y2="260.8" stroke="#d95319" stroke-width="1.9"/>
<text font-family="Liberation Sans, Arial, Helvetica, sans-serif" font-size="7.2" fill="#000" x="81.8" y="263.2">Functionalized Surface: O<tspan font-size="5.5" dy="1.6">2</tspan><tspan dy="-1.6"> response</tspan></text>
</svg>
</body></html>
